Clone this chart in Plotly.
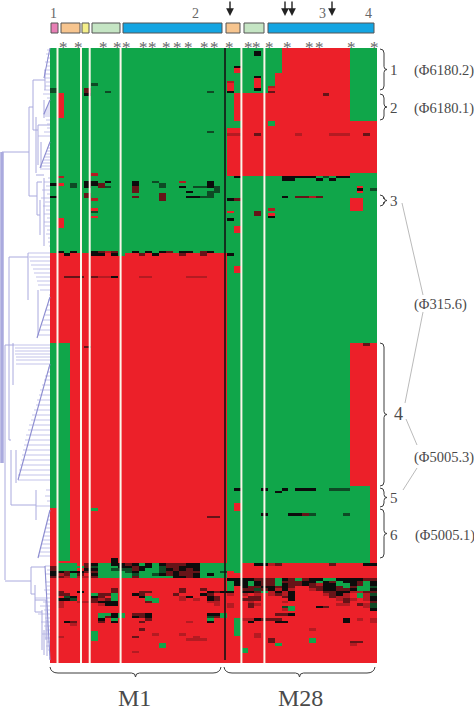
import numpy as np
import plotly.graph_objects as go

N_ROWS, N_COLS = 246, 48
G, g, k, d, m, R = -1.0, -0.4, 0.0, 0.4, 0.75, 1.0
CODE = {"G": G, "g": g, "k": k, "d": d, "m": m, ".": R}

# expression blocks: first row, end row, first col, end col, level
BLOCKS = [
    (0, 82, 0, 26, G), (118, 184, 0, 1, G), (118, 205, 1, 3, G),
    (18, 28, 1, 2, R), (68, 72, 1, 2, R),
    # M28 overall regions
    (0, 18, 26, 32, G), (0, 15, 32, 33, G), (0, 10, 33, 34, G), (0, 29, 44, 48, G),
    (18, 32, 26, 27, G), (29, 32, 27, 28, G), (29, 31, 32, 33, G),
    (18, 29, 27, 28, R), (51, 206, 26, 44, G), (50, 206, 44, 47, G), (50, 118, 47, 48, G),
    (118, 175, 44, 48, R), (60, 65, 44, 46, R),
    (204, 209, 26, 27, G), (204, 210, 27, 28, G),
    # sparse M1, upper green part
    (16, 18, 0, 1, g), (16, 18, 5, 6, d), (18, 19, 5, 6, k), (14, 15, 6, 7, g), (17, 18, 8, 9, g),
    (17, 18, 23, 24, g), (33, 34, 23, 24, g),
    (51, 52, 1, 2, m), (54, 55, 1, 2, R), (50, 51, 6, 7, m), (54, 55, 0, 1, k), (59, 60, 0, 1, k),
    (54, 56, 3, 4, g), (53, 56, 5, 6, k), (53, 55, 6, 7, k), (54, 56, 7, 8, d), (53, 54, 8, 9, k),
    (55, 56, 8, 9, g), (53, 55, 12, 13, k), (55, 58, 12, 13, d), (59, 60, 12, 13, d), (53, 54, 15, 16, g),
    (54, 56, 16, 17, g), (53, 54, 19, 20, m), (55, 56, 19, 20, k), (57, 58, 20, 21, k),
    (55, 56, 21, 22, g), (55, 56, 22, 23, g), (53, 56, 23, 24, k), (57, 60, 23, 24, g),
    (55, 58, 24, 25, g), (58, 61, 16, 17, d), (58, 60, 5, 6, d), (59, 60, 20, 22, k), (59, 60, 22, 23, g),
    (60, 61, 6, 7, m), (64, 65, 6, 7, R), (65, 66, 6, 7, g), (67, 68, 6, 7, R),
    (81, 82, 1, 2, k), (81, 82, 3, 4, k), (81, 82, 6, 7, k), (81, 82, 7, 8, d), (81, 82, 8, 9, m),
    (81, 82, 9, 10, d), (81, 82, 12, 13, k), (81, 82, 14, 15, k), (81, 82, 16, 17, k), (81, 82, 17, 18, d),
    (81, 82, 19, 21, k), (81, 82, 22, 23, d), (81, 82, 23, 24, k),
    (82, 83, 2, 3, k), (82, 83, 6, 8, k), (82, 83, 9, 10, k), (82, 83, 10, 11, G), (82, 83, 13, 14, d),
    (82, 83, 15, 16, k), (82, 83, 19, 20, d), (82, 83, 22, 23, d),
    # sparse M1, red part
    (91, 92, 2, 5, d), (91, 92, 6, 7, d), (91, 92, 7, 9, m), (91, 92, 9, 10, k), (91, 92, 13, 15, m),
    (91, 92, 20, 23, m), (119, 120, 5, 6, d), (184, 185, 6, 7, G), (187, 188, 23, 25, d),
    # sparse M28, upper part
    (1, 3, 30, 31, k), (7, 8, 27, 28, k), (8, 10, 27, 28, R), (13, 14, 26, 27, m), (14, 17, 26, 27, R),
    (17, 18, 26, 27, k), (11, 12, 30, 31, k), (12, 16, 30, 31, R), (16, 17, 30, 31, k),
    (15, 16, 32, 33, m), (17, 18, 32, 33, d), (18, 19, 40, 41, d),
    (34, 35, 26, 28, m), (34, 35, 30, 31, d), (34, 35, 36, 37, m), (34, 35, 41, 44, m), (34, 35, 46, 47, d),
    (51, 52, 27, 28, k), (51, 52, 34, 39, k), (51, 52, 40, 41, g), (51, 52, 42, 44, k),
    (52, 53, 34, 36, k), (52, 53, 39, 40, k), (52, 53, 41, 42, k),
    (55, 56, 45, 46, R), (56, 57, 45, 46, k), (57, 58, 45, 46, R), (56, 57, 47, 48, g),
    (59, 60, 34, 35, k), (59, 60, 36, 38, d), (59, 60, 38, 39, m), (59, 60, 39, 40, d),
    (60, 61, 26, 27, k), (60, 61, 27, 28, d), (65, 66, 26, 27, R), (65, 67, 30, 31, d),
    (64, 65, 32, 33, m), (66, 67, 32, 33, R), (67, 68, 32, 33, k), (68, 69, 26, 27, k), (71, 74, 27, 28, R),
    (82, 83, 26, 27, k), (87, 90, 27, 28, R),
    (118, 119, 46, 47, d),
    (176, 177, 27, 28, k), (176, 177, 31, 32, k), (177, 178, 33, 34, k), (176, 177, 34, 35, k),
    (176, 177, 36, 39, k), (176, 177, 41, 44, g),
    (182, 185, 27, 28, R), (186, 187, 31, 32, k), (186, 187, 35, 37, k), (186, 187, 37, 38, d),
    (186, 187, 38, 39, g), (186, 187, 43, 44, g),
    (204, 205, 9, 10, k), (205, 206, 9, 10, k),
]

# lower mixed rows, written left to right
ROWS_M1 = {
    206: ".GGG.dkGGkkdkGkGkdddkkGGGG",
    207: "dGGGGdgGGGkkdkkGgddkkkGGGG",
    208: "dGGG.kkGGgggdkGGgkdkdkGGGG",
    209: "kkdkkddGGGGgkGGGgdkdddGGGg",
    210: "kmdGd.kGGGGGgGGgkdkddkGkGG",
    211: "ddmGmmdGGGGGdGGGGGkkdkGGGG",
    216: ".........d.........d..d...",
    217: ".d..k....d...dd....d...kdk",
    218: ".dd...Gdd G..kd....d...kd.".replace(" ", ""),
    219: "..gk..kd.G...kG....mk..kd.",
    220: ".kkg..dmdG....GG...m.m.kd.",
    221: ".m..mmdkkk....dG.......mm.",
    222: ".m.....mkk..............m.",
    223: ".m........................",
    226: ".......GGkG.ddk........kkG",
    227: ".......GdkG.kdk........gdG",
    228: ".......k.G....d........G..",
    229: "..kd...d.k...d......m..k..",
    230: "...m......................",
    232: ".............d............",
    233: "......G...................",
    234: "......G........m...m......",
    235: ".m....G.....d........m....",
    236: "......G.............mmm...",
    238: "................G.........",
    239: "................G.........",
    241: "............m.............",
}
ROWS_M28 = {
    206: "GG..kkmd.......d....kk",
    207: "GG....................",
    208: "GG....................",
    209: ".G....................",
    212: "kkkkdddGkdGdkkGGkkkkdd",
    213: "GkkGkddGdddkkGkdGkkdGk",
    214: "GkkGkddGkddkdmkkGGkdGk",
    215: "G.kddkkdkd..ddkkdGdGGg",
    216: "G.ddgdkmkm..mdkkddkGGk",
    217: "k.kkdGmkmk....ddkkmmdd",
    218: "m.m.m.mdmk....mdkm.Gmg",
    219: "...dd...dk.....dmm.Gmk",
    220: "..ddd....k......mdm.mk",
    221: "...m....m........d...d",
    222: "m..dm...........mm.dmg",
    223: "m..d....gG...kd.....mg",
    224: "........mG...........k",
    226: ".......ddk............",
    228: ".Gmmkddd.........k.m.m",
    229: ".G.k...kk........k...m",
    230: ".G....................",
    231: ".G....................",
    232: ".G..........m.........",
    233: ".G....................",
    234: ".G..m.................",
    235: "....m.................",
    236: "......d.....G.........",
    237: "......d.....G.....dd..",
    238: ".......G..........m...",
    240: "..G...................",
    241: "..G...................",
}

HEAT_X0, HEAT_DX, HEAT_Y0, HEAT_DY = 50.0, 327 / 48, 48.0, 2.5

# treatment bars
BAR_LABELS = ["A", "B", "C", "D", "E", "F", "G", "H"]
BAR_STARTS = [51, 61, 82, 92, 123, 226, 244, 268]
BAR_ENDS = [58, 80, 89, 120, 222, 240, 264, 374]
BAR_COLORS = ["#e77fb5", "#f7c58f", "#f5ef8a", "#c5e5c4", "#14a5e2", "#f7c58f", "#c5e5c4", "#14a5e2"]
STAR_X = [63, 78, 103, 117, 126, 143, 152, 166, 177, 188, 204, 214, 229, 248, 256, 269, 287, 309, 319, 351, 374]
ARROW_X = [230, 285, 292, 332]
WHITE_LINES = [57.5, 81, 89.7, 120.6, 241.4, 264.4]

# dendrogram leaves: height, branch position
LEAF_Y = [50, 54, 58, 62, 66, 70, 74, 78, 82, 86, 90, 94, 98, 102, 104, 106, 108, 110, 112, 114, 116, 120, 124, 128, 132,
          136, 142, 145, 148, 151, 154, 157, 160, 163, 166, 169,
          178, 182, 186, 190, 194, 198, 202, 206, 210, 214, 218, 222, 226, 230, 234, 238, 242, 246,
          253, 257, 261, 265, 269, 273, 277, 281, 285, 290, 295, 300, 305, 310, 315, 320, 325, 330, 335,
          345, 348, 351, 354, 357, 360, 364, 368, 372, 376, 380, 385, 390, 395, 400, 405, 410, 415, 420, 425, 430,
          435, 440, 445, 450, 455, 460, 465, 470, 475, 480,
          490, 496, 501, 506, 512, 516, 520, 524, 528, 532, 536, 540, 544, 548, 552, 556,
          566, 570, 574, 582, 586, 590, 594, 598, 602, 606, 610, 614, 618, 622, 626, 630, 634, 638, 642, 646, 650, 654, 658]
LEAF_X = [47, 46, 47, 45, 46, 44, 45, 44, 46, 45, 44, 43, 47, 49, 48, 47, 46, 45, 44, 43, 45, 46, 47, 47, 44,
          38, 49, 48, 47, 46, 45, 44, 43, 42, 41, 40,
          48, 44, 46, 42, 47, 41, 45, 43, 46, 44, 47, 44, 45, 47, 46, 48, 48, 49,
          28, 29, 30, 31, 33, 34, 36, 37, 38, 40, 49, 48, 47, 46, 45, 43, 42, 40, 38,
          14, 15, 15, 15, 16, 16, 16, 48, 47, 45, 44, 42, 40, 39, 37, 36, 34, 32, 31, 29, 28,
          26, 25, 24, 23, 22, 21, 20, 19, 18, 18,
          46, 45, 47, 36, 49, 48, 47, 46, 45, 44, 43, 42, 41, 40, 39, 38,
          45, 47, 46, 45, 47, 44, 46, 35, 43, 40, 44, 38, 45, 41, 44, 46, 42, 45, 47, 46, 48, 49, 49]
# dendrogram joins: position, first height, second height
JOIN_V_X = [29, 33, 45, 36, 37, 40, 38, 28, 9, 5, 13, 11, 36, 31, 35, 16, 44, 41, 44, 46, 47, 38, 42, 44]
JOIN_V_A = [107, 80, 70, 117, 182, 200, 125, 253, 257, 345, 343, 450, 490, 567, 585, 450, 100, 142, 178, 600, 620, 290, 610, 630]
JOIN_V_B = [196, 130, 90, 173, 215, 235, 165, 300, 440, 580, 385, 505, 520, 594, 612, 483, 118, 168, 246, 640, 656, 335, 650, 655]
JOIN_H_Y = [152, 107, 80, 130, 175, 196, 182, 215, 125, 257, 345, 505, 581, 567, 594, 440, 612, 600]
JOIN_H_A = [2, 29, 33, 33, 36, 29, 37, 37, 38, 9, 5, 11, 5, 31, 31, 9, 35, 35]
JOIN_H_B = [29, 33, 45, 38, 44, 37, 42, 40, 50, 28, 14, 36, 31, 45, 35, 11, 42, 46]
# fan edges of the tightest clusters: from (x, y) to (x, y)
FAN_X0 = [50, 50, 50, 50, 50, 50, 45]
FAN_Y0 = [48, 100, 142, 297, 364, 510, 566]
FAN_X1 = [44, 44, 40, 37, 18, 38, 50]
FAN_Y1 = [78, 114, 168, 338, 480, 558, 660]

BRACE_TOP = [49, 94, 195, 343, 488, 509]
BRACE_BOTTOM = [90, 120, 206, 486, 507, 558]
CLUSTER_NAMES = ["1", "2", "3", "4", "5", "6"]
PHAGE_NAMES = ["(Φ6180.2)", "(Φ6180.1)", "(Φ315.6)", "(Φ5005.3)", "(Φ5005.1)"]
PHAGE_X = [412, 412, 412, 412, 413]
PHAGE_Y = [70, 108, 304, 457, 535]
GROUP_NAMES = ["M1", "M28"]
TOP_NUMBERS = ["1", "2", "3", "4"]

Z = np.full((N_ROWS, N_COLS), R)
for r0, r1, c0, c1, v in BLOCKS:
    Z[r0:r1, c0:c1] = v
for row, text in ROWS_M1.items():
    for i, ch in enumerate(text):
        if ch != "." or row >= 212:
            Z[row, i] = CODE[ch]
for row, text in ROWS_M28.items():
    for i, ch in enumerate(text):
        Z[row, 26 + i] = CODE[ch]

SERIF = "Liberation Serif"
INK = "#4a4a4a"
fig = go.Figure()

# dendrogram
LAV = "#aaaade"
lx, ly = [], []
for y, x in zip(LEAF_Y, LEAF_X):
    lx += [x, 50, None]
    ly += [y, y, None]
fig.add_trace(go.Scatter(x=lx, y=ly, mode="lines", line=dict(color="#b4b4e4", width=0.8), hoverinfo="skip"))
jx, jy = [], []
for x, a, b in zip(JOIN_V_X, JOIN_V_A, JOIN_V_B):
    jx += [x, x, None]
    jy += [a, b, None]
for y, a, b in zip(JOIN_H_Y, JOIN_H_A, JOIN_H_B):
    jx += [a, b, None]
    jy += [y, y, None]
fig.add_trace(go.Scatter(x=jx, y=jy, mode="lines", line=dict(color=LAV, width=1), hoverinfo="skip"))
fx, fy = [], []
for x0, y0, x1, y1 in zip(FAN_X0, FAN_Y0, FAN_X1, FAN_Y1):
    fx += [x0, x1, None]
    fy += [y0, y1, None]
fig.add_trace(go.Scatter(x=fx, y=fy, mode="lines", line=dict(color="#8c8cd0", width=1.1), hoverinfo="skip"))
fig.add_trace(go.Scatter(x=[2, 2], y=[152, 463], mode="lines", line=dict(color=LAV, width=3.5), hoverinfo="skip"))

fig.add_trace(go.Heatmap(
    z=Z, x0=HEAT_X0 + HEAT_DX / 2, dx=HEAT_DX, y0=HEAT_Y0 + HEAT_DY / 2, dy=HEAT_DY,
    zmin=-1, zmax=1, showscale=False, hoverinfo="skip",
    colorscale=[[0, "#10a64a"], [0.5, "#0c0c0c"], [1, "#ec2029"]],
))

shapes = []
for a, b, c in zip(BAR_STARTS, BAR_ENDS, BAR_COLORS):
    shapes.append(dict(type="rect", x0=a, x1=b, y0=23, y1=33, fillcolor=c, line=dict(color="#555555", width=1)))
for x in WHITE_LINES:
    shapes.append(dict(type="line", x0=x, x1=x, y0=48, y1=663, line=dict(color="#fbf6ea", width=2)))
shapes.append(dict(type="line", x0=225, x1=225, y0=48, y1=660, line=dict(color="#141414", width=1.6)))


def right_brace(t, b, tip=None):
    x = 380
    mid = (t + b) / 2 if tip is None else tip
    return (f"M {x} {t} Q {x+4} {t} {x+4} {t+4} L {x+4} {mid-3} Q {x+4} {mid} {x+7} {mid} "
            f"Q {x+4} {mid} {x+4} {mid+3} L {x+4} {b-4} Q {x+4} {b} {x} {b}")


def bottom_brace(a, b):
    m_ = (a + b) / 2
    return (f"M {a} 667 Q {a+1} 673 {a+8} 673 L {m_-4} 673 Q {m_} 673 {m_} 677 "
            f"Q {m_} 673 {m_+4} 673 L {b-8} 673 Q {b-1} 673 {b} 667")


for t, b in zip(BRACE_TOP, BRACE_BOTTOM):
    shapes.append(dict(type="path", path=right_brace(t, b), line=dict(color="#3c3c3c", width=1)))
shapes.append(dict(type="path", path=bottom_brace(50, 221), line=dict(color="#3c3c3c", width=1)))
shapes.append(dict(type="path", path=bottom_brace(224, 375), line=dict(color="#3c3c3c", width=1)))
for x0, y0, x1, y1 in [(402, 203, 423, 295), (423, 312, 405, 403), (406, 419, 417, 445), (417, 468, 403, 490)]:
    shapes.append(dict(type="line", x0=x0, y0=y0, x1=x1, y1=y1, line=dict(color="#a8a8a8", width=0.8)))

ann = []


def label(x, y, s, size, anchor="center", color=INK):
    ann.append(dict(x=x, y=y, text=s, showarrow=False, xanchor=anchor, yanchor="middle",
                    font=dict(family=SERIF, size=size, color=color)))


for x, y, s in zip([53, 195, 322, 368], [13, 13, 13, 13], TOP_NUMBERS):
    label(x, y, s, 14, color="#666666")
for x in STAR_X:
    label(x, 47.5, "*", 17, color="#666666")
for x in ARROW_X:
    ann.append(dict(x=x, y=16, ax=x, ay=0, xref="x", yref="y", axref="x", ayref="y", text="", showarrow=True,
                    arrowhead=2, arrowsize=1.1, arrowwidth=1.4, arrowcolor="#222222"))
for x, y, s, size in zip([394, 394, 394, 398, 394, 394], [70, 108, 201, 414, 498, 535], CLUSTER_NAMES, [15, 15, 15, 18, 15, 15]):
    label(x, y, s, size)
for x, y, s in zip(PHAGE_X, PHAGE_Y, PHAGE_NAMES):
    label(x, y, s, 14.5, "left")
label(134, 697.5, GROUP_NAMES[0], 24)
label(300, 697.5, GROUP_NAMES[1], 24)

fig.update_layout(
    width=474, height=711, autosize=False, margin=dict(l=0, r=0, t=0, b=0),
    paper_bgcolor="white", plot_bgcolor="white", showlegend=False, shapes=shapes, annotations=ann,
    xaxis=dict(range=[0, 474], visible=False, domain=[0, 1], fixedrange=True),
    yaxis=dict(range=[711, 0], visible=False, domain=[0, 1], fixedrange=True),
)
fig.write_html("out.html", config=dict(displayModeBar=False),
               post_script="document.documentElement.style.margin='0';document.body.style.margin='0';document.body.style.overflow='hidden';")
